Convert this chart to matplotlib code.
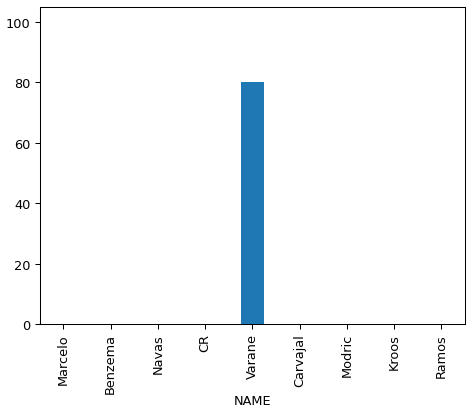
import matplotlib
matplotlib.use("Agg")
import matplotlib.pyplot as plt

names = ["Marcelo", "Benzema", "Navas", "CR", "Varane", "Carvajal", "Modric", "Kroos", "Ramos"]
values = [0, 0, 0, 0, 80, 0, 0, 0, 0]

dpi = 93
fig = plt.figure(figsize=(474 / dpi, 414 / dpi), dpi=dpi)
ax = fig.add_axes([0.084, 0.215, 0.897, 0.766])
x = range(len(names))
ax.bar(x, values, width=0.5, color="#1f77b4")
ax.set_xticks(list(x))
ax.set_xticklabels(names, rotation=90)
ax.set_xlim(-0.5, len(names) - 0.5)
ax.set_ylim(0, 105)
ax.set_xlabel("NAME", labelpad=0.5)
fig.savefig("out.png", dpi=dpi)
